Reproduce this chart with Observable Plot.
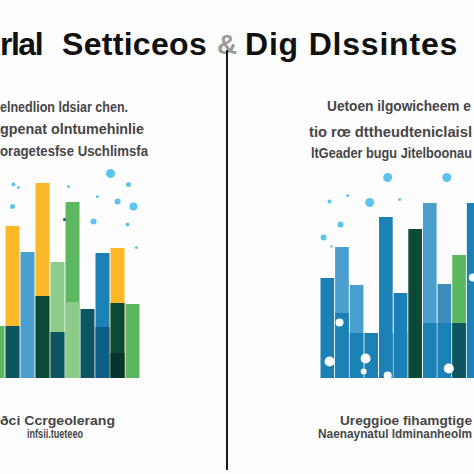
<!DOCTYPE html>
<html>
<head>
<meta charset="utf-8">
<script src="https://cdn.jsdelivr.net/npm/d3@7"></script>
<script src="https://cdn.jsdelivr.net/npm/@observablehq/plot@0.6"></script>
<style>
  html, body { margin: 0; padding: 0; background: #fdfdfd; }
  #page { position: relative; width: 474px; height: 474px; overflow: hidden; background: #fdfdfd; }
  .t { position: absolute; white-space: nowrap; line-height: 1; transform-origin: 0 50%; }
  .title { font-family: "Liberation Sans", Arial, sans-serif; font-weight: bold; font-size: 32px; color: #111; top: 28px; }
  .note { font-family: "Liberation Sans", Arial, sans-serif; font-weight: bold; font-size: 15px; color: #464646; }
  .foot { font-family: "Liberation Sans", Arial, sans-serif; font-weight: bold; font-size: 12px; line-height: 11px; color: #464646; }
  #divider { position: absolute; left: 226px; top: 50px; width: 2px; height: 420px; background: #1a1a1a; }
  .chart { position: absolute; top: 170px; }
  .chart svg { max-width: none !important; display: block; }
</style>
</head>
<body>
<div id="page">
  <div class="t title" style="left:0px;letter-spacing:-1.5px;">rlal</div>
  <div class="t title" style="left:62px;letter-spacing:0.3px;">Setticeos</div>
  <div class="t title" style="left:217px;color:#9a9a9a;font-size:28px;top:31px;">&amp;</div>
  <div class="t title" style="left:245px;letter-spacing:0.8px;">Dig Dlssintes</div>
  <div id="divider"></div>

  <div class="t note" style="left:0;top:99px;" data-w="128">elnedlion ldsiar chen.</div>
  <div class="t note" style="left:0;top:121px;" data-w="144">gpenat olntumehinlie</div>
  <div class="t note" style="left:0;top:143px;" data-w="148">oragetesfse Uschlimsfa</div>

  <div class="t note" style="left:327px;top:98px;" data-w="144">Uetoen ilgowicheem e</div>
  <div class="t note" style="left:309px;top:124px;" data-w="163">tio rœ dttheudteniclaisl</div>
  <div class="t note" style="left:311px;top:145px;" data-w="161">ltGeader bugu Jitelboonau</div>

  <div class="t foot" style="left:0;top:415.5px;" data-w="115">ðci Ccrgeolerang</div>
  <div class="t foot" style="left:27px;top:429px;" data-w="56">infsii.tueteeo</div>
  <div class="t foot" style="left:340px;top:415.5px;" data-w="132">Ureggioe fihamgtige</div>
  <div class="t foot" style="left:318px;top:429px;" data-w="154">Naenaynatul ldminanheolm</div>

  <div id="left" class="chart" style="left:-10px;width:150px;"></div>
  <div id="right" class="chart" style="left:320px;width:161px;"></div>
</div>
<script>
// ---- Left panel data ----
const leftColumns   = [0, 1, 2, 3, 4, 5, 6, 7, 8, 9];
const leftBack      = [52, 152, 126, 195, 116, 176, 69, 125, 130, 74];
const leftBackSeries  = ["Green", "Gold", "Sky", "Gold", "Mint", "Green", "Teal", "Ocean", "Gold", "Green"];
const leftFront     = [0, 52, 0, 82, 46, 76, 0, 51, 75, 0];
const leftFrontSeries = ["Green", "Teal", "Sky", "Forest", "Teal", "Mint", "Teal", "Navy", "Forest", "Green"];
const leftBase      = [0, 0, 0, 0, 0, 0, 0, 0, 25, 0];
const leftBaseSeries  = ["Green", "Green", "Green", "Green", "Green", "Green", "Green", "Green", "Deep", "Green"];
const leftDotX    = [8.0, 1.53, 1.87, 5.2, 9.2, 1.47, 7.13, 8.47, 9.53, 4.93, 6.87, 9.13, 9.73];
const leftDotY    = [205, 194, 191, 192, 194, 172, 182, 177, 172, 159, 157, 154, 131];
const leftDotSize = [4.5, 2, 1.5, 1.5, 2.5, 2.5, 1.5, 3, 4, 1.5, 3, 2, 1.5];
const leftDotSeries = ["Bubble","Bubble","Bubble","Bubble","Bubble","Bubble","Bubble","Bubble","Bubble","Navy","Bubble","Bubble","Bubble"];

// ---- Right panel data ----
const rightColumns  = [0, 1, 2, 3, 4, 5, 6, 7, 8, 9, 10];
const rightBack     = [100, 131, 93, 45, 161, 85, 149, 175, 94, 123, 175];
const rightBackSeries = ["Ocean", "Sky", "Sky", "Ocean", "Ocean", "Ocean", "Forest", "Sky", "Steel", "Green", "Ocean"];
const rightFront    = [0, 65, 45, 0, 45, 45, 0, 55, 55, 55, 55];
const rightFrontSeries = ["Ocean", "Ocean", "Ocean", "Ocean", "Ocean", "Ocean", "Forest", "Ocean", "Ocean", "Teal", "Ocean"];
const rightDotX    = [4.59, 8.63, 3.36, 0.62, 1.85, 5.41, 1.37, 0.21, 0.75, 1.3, 0.62, 3.08, 2.95, 8.77, 4.59, 10.41];
const rightDotY    = [201, 201, 176, 177, 183, 179, 154, 141, 132, 56, 17, 20, 7, 10, 3, 101];
const rightDotSize = [4.5, 4.5, 4.5, 2, 1.5, 1.5, 3, 3, 1.2, 4, 5, 5, 3, 5, 4, 4];
const rightDotSeries = ["Bubble","Bubble","Bubble","Bubble","Bubble","Bubble","Bubble","Bubble","Bubble","Hole","Hole","Hole","Hole","Hole","Hole","Hole"];

// ---- Palette (series -> colour) ----
const seriesNames  = ["Gold", "Sky", "Ocean", "Steel", "Green", "Mint", "Teal", "Forest", "Navy", "Deep", "Bubble", "Hole"];
const seriesColors = ["#fbb829", "#4a9fcf", "#1b80b3", "#3d8cbb", "#5cb860", "#8ccb8a", "#0d5560", "#0b4a36", "#0d5e86", "#06342c", "#5cc4ec", "#ffffff"];

function panel(columns, layers, dx, dy, dsize, dseries, width) {
  const n = columns.length;
  const marks = [];
  for (const [vals, series] of layers) {
    const rows = columns.map((c, i) => ({c, v: vals[i], s: series[i]})).filter(d => d.v > 0);
    marks.push(Plot.rectY(rows, {x1: d => d.c, x2: d => d.c + 1, y: "v", fill: "s", insetLeft: 0.5, insetRight: 0.5}));
  }
  const dots = dx.map((x, i) => ({x, y: dy[i], r: dsize[i], s: dseries[i]}));
  marks.push(Plot.dot(dots, {x: "x", y: "y", r: "r", fill: "s"}));
  return Plot.plot({
    width, height: 208,
    margin: 0,
    style: {background: "transparent", overflow: "visible", maxWidth: "none"},
    x: {domain: [0, n], axis: null},
    y: {domain: [0, 208], axis: null},
    r: {type: "identity"},
    color: {domain: seriesNames, range: seriesColors},
    marks
  });
}

document.getElementById("left").appendChild(
  panel(leftColumns,
        [[leftBack, leftBackSeries], [leftFront, leftFrontSeries], [leftBase, leftBaseSeries]],
        leftDotX, leftDotY, leftDotSize, leftDotSeries, 150));
document.getElementById("right").appendChild(
  panel(rightColumns,
        [[rightBack, rightBackSeries], [rightFront, rightFrontSeries]],
        rightDotX, rightDotY, rightDotSize, rightDotSeries, 161));

// fit each small text run to the width it occupies in the reference
document.querySelectorAll("[data-w]").forEach(el => {
  const w = el.getBoundingClientRect().width;
  const target = +el.dataset.w;
  if (w > 0) el.style.transform = `scaleX(${(target / w).toFixed(3)})`;
});
</script>
</body>
</html>
